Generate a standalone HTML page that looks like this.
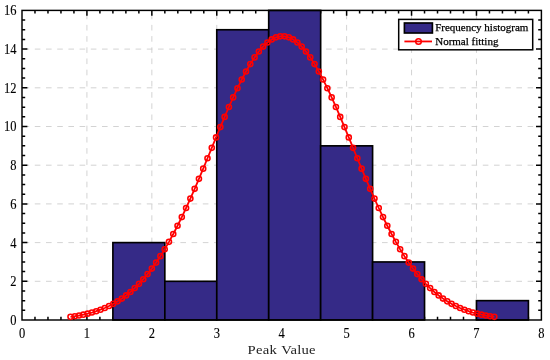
<!DOCTYPE html>
<html><head><meta charset="utf-8"><title>Peak Value histogram</title>
<style>html,body{margin:0;padding:0;background:#fff;overflow:hidden}body{width:550px;height:360px;position:relative}</style></head>
<body>
<svg width="550" height="360" viewBox="0 0 550 360" style="display:block;position:absolute;left:0;top:0">
<rect x="0" y="0" width="550" height="360" fill="#fff"/>
<path d="M22.00 281.30H541.40 M22.00 242.60H541.40 M22.00 203.90H541.40 M22.00 165.20H541.40 M22.00 126.50H541.40 M22.00 87.80H541.40 M22.00 49.10H541.40" fill="none" stroke="#c8c8c8" stroke-width="0.8" stroke-dasharray="5.6 5.6" stroke-dashoffset="-1.6"/>
<path d="M86.92 320.00V10.40 M151.85 320.00V10.40 M216.77 320.00V10.40 M281.70 320.00V10.40 M346.62 320.00V10.40 M411.55 320.00V10.40 M476.47 320.00V10.40" fill="none" stroke="#c8c8c8" stroke-width="0.8" stroke-dasharray="5.6 5.6" stroke-dashoffset="1.7"/>
<path d="M34.98 320.00v-3.2 M34.98 10.40v3.2 M47.97 320.00v-3.2 M47.97 10.40v3.2 M60.96 320.00v-3.2 M60.96 10.40v3.2 M73.94 320.00v-3.2 M73.94 10.40v3.2 M86.92 320.00v-5.4 M86.92 10.40v5.4 M99.91 320.00v-3.2 M99.91 10.40v3.2 M112.90 320.00v-3.2 M112.90 10.40v3.2 M125.88 320.00v-3.2 M125.88 10.40v3.2 M138.87 320.00v-3.2 M138.87 10.40v3.2 M151.85 320.00v-5.4 M151.85 10.40v5.4 M164.84 320.00v-3.2 M164.84 10.40v3.2 M177.82 320.00v-3.2 M177.82 10.40v3.2 M190.81 320.00v-3.2 M190.81 10.40v3.2 M203.79 320.00v-3.2 M203.79 10.40v3.2 M216.77 320.00v-5.4 M216.77 10.40v5.4 M229.76 320.00v-3.2 M229.76 10.40v3.2 M242.75 320.00v-3.2 M242.75 10.40v3.2 M255.73 320.00v-3.2 M255.73 10.40v3.2 M268.72 320.00v-3.2 M268.72 10.40v3.2 M281.70 320.00v-5.4 M281.70 10.40v5.4 M294.69 320.00v-3.2 M294.69 10.40v3.2 M307.67 320.00v-3.2 M307.67 10.40v3.2 M320.66 320.00v-3.2 M320.66 10.40v3.2 M333.64 320.00v-3.2 M333.64 10.40v3.2 M346.62 320.00v-5.4 M346.62 10.40v5.4 M359.61 320.00v-3.2 M359.61 10.40v3.2 M372.60 320.00v-3.2 M372.60 10.40v3.2 M385.58 320.00v-3.2 M385.58 10.40v3.2 M398.57 320.00v-3.2 M398.57 10.40v3.2 M411.55 320.00v-5.4 M411.55 10.40v5.4 M424.53 320.00v-3.2 M424.53 10.40v3.2 M437.52 320.00v-3.2 M437.52 10.40v3.2 M450.50 320.00v-3.2 M450.50 10.40v3.2 M463.49 320.00v-3.2 M463.49 10.40v3.2 M476.47 320.00v-5.4 M476.47 10.40v5.4 M489.46 320.00v-3.2 M489.46 10.40v3.2 M502.44 320.00v-3.2 M502.44 10.40v3.2 M515.43 320.00v-3.2 M515.43 10.40v3.2 M528.41 320.00v-3.2 M528.41 10.40v3.2 M22.00 310.32h3.2 M541.40 310.32h-3.2 M22.00 300.65h3.2 M541.40 300.65h-3.2 M22.00 290.98h3.2 M541.40 290.98h-3.2 M22.00 281.30h5.4 M541.40 281.30h-5.4 M22.00 271.62h3.2 M541.40 271.62h-3.2 M22.00 261.95h3.2 M541.40 261.95h-3.2 M22.00 252.27h3.2 M541.40 252.27h-3.2 M22.00 242.60h5.4 M541.40 242.60h-5.4 M22.00 232.93h3.2 M541.40 232.93h-3.2 M22.00 223.25h3.2 M541.40 223.25h-3.2 M22.00 213.57h3.2 M541.40 213.57h-3.2 M22.00 203.90h5.4 M541.40 203.90h-5.4 M22.00 194.22h3.2 M541.40 194.22h-3.2 M22.00 184.55h3.2 M541.40 184.55h-3.2 M22.00 174.88h3.2 M541.40 174.88h-3.2 M22.00 165.20h5.4 M541.40 165.20h-5.4 M22.00 155.52h3.2 M541.40 155.52h-3.2 M22.00 145.85h3.2 M541.40 145.85h-3.2 M22.00 136.17h3.2 M541.40 136.17h-3.2 M22.00 126.50h5.4 M541.40 126.50h-5.4 M22.00 116.82h3.2 M541.40 116.82h-3.2 M22.00 107.15h3.2 M541.40 107.15h-3.2 M22.00 97.47h3.2 M541.40 97.47h-3.2 M22.00 87.80h5.4 M541.40 87.80h-5.4 M22.00 78.12h3.2 M541.40 78.12h-3.2 M22.00 68.45h3.2 M541.40 68.45h-3.2 M22.00 58.77h3.2 M541.40 58.77h-3.2 M22.00 49.10h5.4 M541.40 49.10h-5.4 M22.00 39.42h3.2 M541.40 39.42h-3.2 M22.00 29.75h3.2 M541.40 29.75h-3.2 M22.00 20.07h3.2 M541.40 20.07h-3.2" fill="none" stroke="#000" stroke-width="1.5"/>
<rect x="112.89" y="242.60" width="51.94" height="77.40" fill="#352a87" stroke="#000" stroke-width="1.65"/>
<rect x="164.84" y="281.30" width="51.94" height="38.70" fill="#352a87" stroke="#000" stroke-width="1.65"/>
<rect x="216.77" y="29.75" width="51.94" height="290.25" fill="#352a87" stroke="#000" stroke-width="1.65"/>
<rect x="268.71" y="10.40" width="51.94" height="309.60" fill="#352a87" stroke="#000" stroke-width="1.65"/>
<rect x="320.65" y="145.85" width="51.94" height="174.15" fill="#352a87" stroke="#000" stroke-width="1.65"/>
<rect x="372.60" y="261.95" width="51.94" height="58.05" fill="#352a87" stroke="#000" stroke-width="1.65"/>
<rect x="476.47" y="300.65" width="51.94" height="19.35" fill="#352a87" stroke="#000" stroke-width="1.65"/>
<rect x="22.00" y="10.40" width="519.40" height="309.60" fill="none" stroke="#000" stroke-width="1.45"/>
<polyline points="70.50,316.85 74.78,316.23 79.06,315.50 83.34,314.65 87.62,313.66 91.90,312.53 96.19,311.21 100.47,309.71 104.75,308.00 109.03,306.04 113.31,303.84 117.59,301.35 121.87,298.55 126.15,295.43 130.43,291.96 134.72,288.11 139.00,283.87 143.28,279.21 147.56,274.12 151.84,268.59 156.12,262.60 160.40,256.15 164.68,249.23 168.96,241.85 173.25,234.02 177.53,225.75 181.81,217.07 186.09,208.00 190.37,198.57 194.65,188.83 198.93,178.83 203.21,168.63 207.49,158.28 211.78,147.86 216.06,137.44 220.34,127.10 224.62,116.92 228.90,106.99 233.18,97.39 237.46,88.21 241.74,79.54 246.02,71.46 250.31,64.05 254.59,57.38 258.87,51.53 263.15,46.55 267.43,42.51 271.71,39.43 275.99,37.36 280.27,36.32 284.55,36.32 288.84,37.36 293.12,39.43 297.40,42.51 301.68,46.55 305.96,51.53 310.24,57.38 314.52,64.05 318.80,71.46 323.08,79.54 327.37,88.21 331.65,97.39 335.93,106.99 340.21,116.92 344.49,127.10 348.77,137.44 353.05,147.86 357.33,158.28 361.61,168.63 365.90,178.83 370.18,188.83 374.46,198.57 378.74,208.00 383.02,217.07 387.30,225.75 391.58,234.02 395.86,241.85 400.14,249.23 404.43,256.15 408.71,262.60 412.99,268.59 417.27,274.12 421.55,279.21 425.83,283.87 430.11,288.11 434.39,291.96 438.67,295.43 442.96,298.55 447.24,301.35 451.52,303.84 455.80,306.04 460.08,308.00 464.36,309.71 468.64,311.21 472.92,312.53 477.20,313.66 481.49,314.65 485.77,315.50 490.05,316.23 494.33,316.85" fill="none" stroke="#ff0000" stroke-width="1.8" stroke-linejoin="round"/>
<g fill="none" stroke="#ff0000" stroke-width="1.55"><circle cx="70.50" cy="316.85" r="2.55"/><circle cx="74.78" cy="316.23" r="2.55"/><circle cx="79.06" cy="315.50" r="2.55"/><circle cx="83.34" cy="314.65" r="2.55"/><circle cx="87.62" cy="313.66" r="2.55"/><circle cx="91.90" cy="312.53" r="2.55"/><circle cx="96.19" cy="311.21" r="2.55"/><circle cx="100.47" cy="309.71" r="2.55"/><circle cx="104.75" cy="308.00" r="2.55"/><circle cx="109.03" cy="306.04" r="2.55"/><circle cx="113.31" cy="303.84" r="2.55"/><circle cx="117.59" cy="301.35" r="2.55"/><circle cx="121.87" cy="298.55" r="2.55"/><circle cx="126.15" cy="295.43" r="2.55"/><circle cx="130.43" cy="291.96" r="2.55"/><circle cx="134.72" cy="288.11" r="2.55"/><circle cx="139.00" cy="283.87" r="2.55"/><circle cx="143.28" cy="279.21" r="2.55"/><circle cx="147.56" cy="274.12" r="2.55"/><circle cx="151.84" cy="268.59" r="2.55"/><circle cx="156.12" cy="262.60" r="2.55"/><circle cx="160.40" cy="256.15" r="2.55"/><circle cx="164.68" cy="249.23" r="2.55"/><circle cx="168.96" cy="241.85" r="2.55"/><circle cx="173.25" cy="234.02" r="2.55"/><circle cx="177.53" cy="225.75" r="2.55"/><circle cx="181.81" cy="217.07" r="2.55"/><circle cx="186.09" cy="208.00" r="2.55"/><circle cx="190.37" cy="198.57" r="2.55"/><circle cx="194.65" cy="188.83" r="2.55"/><circle cx="198.93" cy="178.83" r="2.55"/><circle cx="203.21" cy="168.63" r="2.55"/><circle cx="207.49" cy="158.28" r="2.55"/><circle cx="211.78" cy="147.86" r="2.55"/><circle cx="216.06" cy="137.44" r="2.55"/><circle cx="220.34" cy="127.10" r="2.55"/><circle cx="224.62" cy="116.92" r="2.55"/><circle cx="228.90" cy="106.99" r="2.55"/><circle cx="233.18" cy="97.39" r="2.55"/><circle cx="237.46" cy="88.21" r="2.55"/><circle cx="241.74" cy="79.54" r="2.55"/><circle cx="246.02" cy="71.46" r="2.55"/><circle cx="250.31" cy="64.05" r="2.55"/><circle cx="254.59" cy="57.38" r="2.55"/><circle cx="258.87" cy="51.53" r="2.55"/><circle cx="263.15" cy="46.55" r="2.55"/><circle cx="267.43" cy="42.51" r="2.55"/><circle cx="271.71" cy="39.43" r="2.55"/><circle cx="275.99" cy="37.36" r="2.55"/><circle cx="280.27" cy="36.32" r="2.55"/><circle cx="284.55" cy="36.32" r="2.55"/><circle cx="288.84" cy="37.36" r="2.55"/><circle cx="293.12" cy="39.43" r="2.55"/><circle cx="297.40" cy="42.51" r="2.55"/><circle cx="301.68" cy="46.55" r="2.55"/><circle cx="305.96" cy="51.53" r="2.55"/><circle cx="310.24" cy="57.38" r="2.55"/><circle cx="314.52" cy="64.05" r="2.55"/><circle cx="318.80" cy="71.46" r="2.55"/><circle cx="323.08" cy="79.54" r="2.55"/><circle cx="327.37" cy="88.21" r="2.55"/><circle cx="331.65" cy="97.39" r="2.55"/><circle cx="335.93" cy="106.99" r="2.55"/><circle cx="340.21" cy="116.92" r="2.55"/><circle cx="344.49" cy="127.10" r="2.55"/><circle cx="348.77" cy="137.44" r="2.55"/><circle cx="353.05" cy="147.86" r="2.55"/><circle cx="357.33" cy="158.28" r="2.55"/><circle cx="361.61" cy="168.63" r="2.55"/><circle cx="365.90" cy="178.83" r="2.55"/><circle cx="370.18" cy="188.83" r="2.55"/><circle cx="374.46" cy="198.57" r="2.55"/><circle cx="378.74" cy="208.00" r="2.55"/><circle cx="383.02" cy="217.07" r="2.55"/><circle cx="387.30" cy="225.75" r="2.55"/><circle cx="391.58" cy="234.02" r="2.55"/><circle cx="395.86" cy="241.85" r="2.55"/><circle cx="400.14" cy="249.23" r="2.55"/><circle cx="404.43" cy="256.15" r="2.55"/><circle cx="408.71" cy="262.60" r="2.55"/><circle cx="412.99" cy="268.59" r="2.55"/><circle cx="417.27" cy="274.12" r="2.55"/><circle cx="421.55" cy="279.21" r="2.55"/><circle cx="425.83" cy="283.87" r="2.55"/><circle cx="430.11" cy="288.11" r="2.55"/><circle cx="434.39" cy="291.96" r="2.55"/><circle cx="438.67" cy="295.43" r="2.55"/><circle cx="442.96" cy="298.55" r="2.55"/><circle cx="447.24" cy="301.35" r="2.55"/><circle cx="451.52" cy="303.84" r="2.55"/><circle cx="455.80" cy="306.04" r="2.55"/><circle cx="460.08" cy="308.00" r="2.55"/><circle cx="464.36" cy="309.71" r="2.55"/><circle cx="468.64" cy="311.21" r="2.55"/><circle cx="472.92" cy="312.53" r="2.55"/><circle cx="477.20" cy="313.66" r="2.55"/><circle cx="481.49" cy="314.65" r="2.55"/><circle cx="485.77" cy="315.50" r="2.55"/><circle cx="490.05" cy="316.23" r="2.55"/><circle cx="494.33" cy="316.85" r="2.55"/></g>
<g font-family="'Liberation Serif', serif" font-size="13" fill="#000" stroke="#000" stroke-width="0.12">
<text transform="translate(22.00 337.9) scale(0.96 1.04)" text-anchor="middle">0</text>
<text transform="translate(86.92 337.9) scale(0.96 1.04)" text-anchor="middle">1</text>
<text transform="translate(151.85 337.9) scale(0.96 1.04)" text-anchor="middle">2</text>
<text transform="translate(216.77 337.9) scale(0.96 1.04)" text-anchor="middle">3</text>
<text transform="translate(281.70 337.9) scale(0.96 1.04)" text-anchor="middle">4</text>
<text transform="translate(346.62 337.9) scale(0.96 1.04)" text-anchor="middle">5</text>
<text transform="translate(411.55 337.9) scale(0.96 1.04)" text-anchor="middle">6</text>
<text transform="translate(476.47 337.9) scale(0.96 1.04)" text-anchor="middle">7</text>
<text transform="translate(541.40 337.9) scale(0.96 1.04)" text-anchor="middle">8</text>
<text transform="translate(16.4 324.90) scale(0.96 1.04)" text-anchor="end">0</text>
<text transform="translate(16.4 286.20) scale(0.96 1.04)" text-anchor="end">2</text>
<text transform="translate(16.4 247.50) scale(0.96 1.04)" text-anchor="end">4</text>
<text transform="translate(16.4 208.80) scale(0.96 1.04)" text-anchor="end">6</text>
<text transform="translate(16.4 170.10) scale(0.96 1.04)" text-anchor="end">8</text>
<text transform="translate(16.4 131.40) scale(0.96 1.04)" text-anchor="end">10</text>
<text transform="translate(16.4 92.70) scale(0.96 1.04)" text-anchor="end">12</text>
<text transform="translate(16.4 54.00) scale(0.96 1.04)" text-anchor="end">14</text>
<text transform="translate(16.4 15.30) scale(0.96 1.04)" text-anchor="end">16</text>
</g>
<text transform="translate(281.7 353.7) scale(1.13 1)" x="0" y="0" text-anchor="middle" font-family="'Liberation Serif', serif" font-size="13" letter-spacing="0.2" word-spacing="0.6" fill="#222">Peak Value</text>
<rect x="398.7" y="19.4" width="134" height="30.4" fill="#fff" stroke="#000" stroke-width="1.5"/>
<rect x="404.4" y="23" width="28" height="10" fill="#352a87" stroke="#000" stroke-width="1.65"/>
<path d="M404.4 41.45H432" stroke="#ff0000" stroke-width="1.8" fill="none"/>
<circle cx="418.5" cy="41.45" r="2.8" fill="none" stroke="#ff0000" stroke-width="1.5"/>
<g font-family="'Liberation Serif', serif" font-size="11" fill="#000" stroke="#000" stroke-width="0.25">
<text x="435.2" y="30.8">Frequency histogram</text>
<text x="435.2" y="45.3">Normal fitting</text>
</g>
</svg>
</body></html>
